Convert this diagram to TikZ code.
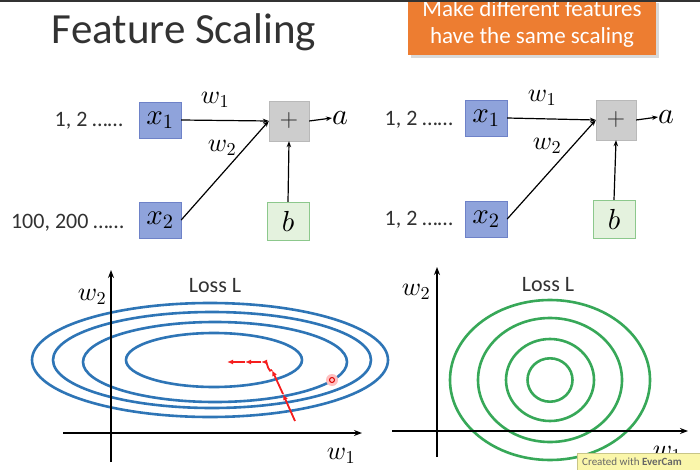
\documentclass[tikz,border=0pt]{standalone}
\usepackage[no-math]{fontspec}
\setmainfont{Carlito}
\DeclareFontShape{OML}{cmm}{m}{it}{<->cmmi10}{}
\DeclareFontShape{OT1}{cmr}{m}{n}{<->cmr10}{}
\DeclareFontShape{OMS}{cmsy}{m}{n}{<->cmsy10}{}
\usetikzlibrary{arrows.meta}
\definecolor{xfill}{RGB}{143,163,219}
\definecolor{xdraw}{RGB}{110,130,200}
\definecolor{pfill}{RGB}{205,205,205}
\definecolor{pdraw}{RGB}{185,185,185}
\definecolor{bfill}{RGB}{228,242,222}
\definecolor{bdraw}{RGB}{140,200,140}
\definecolor{orangebox}{RGB}{237,125,49}
\definecolor{lossblue}{RGB}{46,117,182}
\definecolor{lossgreen}{RGB}{55,168,88}
\definecolor{pathred}{RGB}{245,30,30}
\definecolor{txtgray}{RGB}{50,50,50}
\definecolor{wmyellow}{RGB}{250,246,170}
\begin{document}
\begin{tikzpicture}[x=1pt,y=-1pt,
  xbox/.style={draw=xdraw, fill=xfill, minimum width=42pt, minimum height=36pt, inner sep=0pt, font=\fontsize{29}{32}\selectfont},
  pbox/.style={draw=pdraw, fill=pfill, minimum width=40pt, minimum height=40pt, inner sep=0pt, font=\fontsize{24}{26}\selectfont, text=txtgray},
  bbox/.style={draw=bdraw, fill=bfill, minimum width=42pt, minimum height=38pt, inner sep=0pt, font=\fontsize{29}{32}\selectfont},
  numlbl/.style={anchor=base east, inner sep=0pt, font=\fontsize{22}{24}\selectfont, text=txtgray},
  wlbl/.style={inner sep=0pt, font=\fontsize{26}{28}\selectfont},
  outlbl/.style={anchor=west, inner sep=0pt, font=\fontsize{30}{32}\selectfont},
  arr/.style={line width=1.2pt, -{Stealth[length=6pt,width=4.5pt]}},
  axis/.style={line width=1.6pt, -{Stealth[length=8pt,width=6pt]}},
  losslbl/.style={inner sep=0pt, font=\fontsize{22}{24}\selectfont, text=txtgray},
  blueell/.style={draw=lossblue, line width=2.6pt},
  greenell/.style={draw=lossgreen, line width=2.6pt},
  redstep/.style={draw=pathred, line width=1.8pt, -{Latex[length=6pt,width=5pt]}}
]
\useasboundingbox (0,0) rectangle (700,470);
\fill[white] (0,0) rectangle (700,470);

% title
\node[anchor=base, inner sep=0pt, font=\fontsize{43}{46}\selectfont, text=txtgray] (title) at (184,44) {Feature Scaling};

% orange box
\fill[black!15] (411,3) rectangle (659,58);
\node[fill=orangebox, minimum width=248pt, minimum height=58pt, inner sep=0pt] (obox) at (532,26) {};
\node[align=center, anchor=base, inner sep=0pt, text=white, font=\fontsize{23}{27}\selectfont] (otext) at (532,44) {Make different features\\have the same scaling};
\fill[black!80] (0,0) rectangle (700,2);

% left network
\node[xbox] (x1L) at (160,120) {$x_1$};
\node[xbox] (x2L) at (160,220) {$x_2$};
\node[pbox] (pL) at (289,121) {$+$};
\node[bbox] (bL) at (288,221) {$b$};
\node[outlbl] (aL) at (332,118) {$a$};
\node[numlbl] (n1L) at (123,127) {1, 2 ……};
\node[numlbl] (n2L) at (124,228) {100, 200 ……};
\draw[arr] (x1L.east) -- (pL.west);
\draw[arr] (x2L.east) -- (pL.west);
\draw[arr] (bL.north) -- (pL.south);
\draw[arr] (pL.east) -- (aL.west);
\node[wlbl] (w1L) at (215,100) {$w_1$};
\node[wlbl] (w2L) at (222,148) {$w_2$};

% right network
\node[xbox] (x1R) at (486,118) {$x_1$};
\node[xbox] (x2R) at (486,219) {$x_2$};
\node[pbox] (pR) at (616,120) {$+$};
\node[bbox] (bR) at (614,219) {$b$};
\node[outlbl] (aR) at (658,117) {$a$};
\node[numlbl] (n1R) at (453,126) {1, 2 ……};
\node[numlbl] (n2R) at (453,225) {1, 2 ……};
\draw[arr] (x1R.east) -- (pR.west);
\draw[arr] (x2R.east) -- (pR.west);
\draw[arr] (bR.north) -- (pR.south);
\draw[arr] (pR.east) -- (aR.west);
\node[wlbl] (w1R) at (542,98) {$w_1$};
\node[wlbl] (w2R) at (547,146) {$w_2$};

% bottom left plot
\coordinate (oxL) at (63,433);
\coordinate (exL) at (362,433);
\coordinate (oyL) at (111,462);
\coordinate (eyL) at (111,270);
\draw[blueell] (210,360) ellipse [x radius=178pt, y radius=57pt];
\draw[blueell] (212,360) ellipse [x radius=159pt, y radius=48pt];
\draw[blueell] (215,362) ellipse [x radius=132pt, y radius=40pt];
\draw[blueell] (214,360) ellipse [x radius=88pt, y radius=27pt];
\draw[axis] (oxL) -- (exL);
\draw[axis] (oyL) -- (eyL);
\node[wlbl] (w2aL) at (92,297) {$w_2$};
\node[wlbl] (w1aL) at (341,456) {$w_1$};
\node[losslbl] (lossL) at (215,286) {Loss L};
\coordinate (r0) at (295,421);
\coordinate (r1) at (283,394);
\coordinate (r2) at (272,370);
\coordinate (r3) at (261,362);
\coordinate (r4) at (245,362);
\coordinate (r5) at (227,362);
\draw[redstep] (r0) -- (r1);
\draw[redstep] (r1) -- (r2);
\draw[redstep] (r2) to[out=240,in=0] (r3);
\draw[redstep] (r3) -- (r4);
\draw[redstep] (r4) -- (r5);
\fill[red!25] (332,380) circle (6pt);
\draw[red!85!black, line width=1pt] (332,380) circle (2.5pt);

% bottom right plot
\draw[greenell] (550,380) ellipse [x radius=100pt, y radius=80pt];
\draw[greenell] (550,380) ellipse [x radius=72pt, y radius=62pt];
\draw[greenell] (550,380) ellipse [x radius=44pt, y radius=41pt];
\draw[greenell] (550,380) ellipse [x radius=22.5pt, y radius=21.7pt];
\coordinate (oxR) at (392,431);
\coordinate (exR) at (688,431);
\coordinate (oyR) at (437,457);
\coordinate (eyR) at (437,267);
\draw[axis] (oxR) -- (exR);
\draw[axis] (oyR) -- (eyR);
\node[wlbl] (w2aR) at (416,292) {$w_2$};
\node[losslbl] (lossR) at (548,285) {Loss L};
\node[wlbl] (w1aR) at (667,454) {$w_1$};

% watermark
\node[fill=wmyellow, draw=wmyellow!80!black, anchor=north west, minimum width=130pt, minimum height=20pt, inner sep=0pt] (wm) at (577,453) {};
\node[anchor=west, inner sep=0pt, font=\fontsize{11}{12}\selectfont, text=black!60] (wmtext) at (582,462) {Created with \textbf{EverCam}};
\end{tikzpicture}
\end{document}
